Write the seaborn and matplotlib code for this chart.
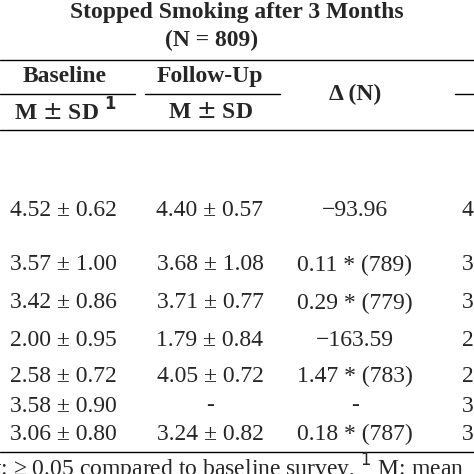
import matplotlib
matplotlib.use("Agg")
import matplotlib.pyplot as plt
import seaborn as sns

sns.set_theme(style="white")
plt.rcParams['font.family'] = ['Liberation Serif', 'DejaVu Serif']

baseline = ["4.52 ± 0.62", "3.57 ± 1.00", "3.42 ± 0.86", "2.00 ± 0.95", "2.58 ± 0.72", "3.58 ± 0.90", "3.06 ± 0.80"]
followup = ["4.40 ± 0.57", "3.68 ± 1.08", "3.71 ± 0.77", "1.79 ± 0.84", "4.05 ± 0.72", "-", "3.24 ± 0.82"]
delta = ["−93.96", "0.11 * (789)", "0.29 * (779)", "−163.59", "1.47 * (783)", "-", "0.18 * (787)"]
cutoff = ["4", "3", "3", "2", "2", "3", "3"]
row_y = [210, 265, 303, 340, 376, 406, 434]

fig = plt.figure(figsize=(4.74, 4.74), dpi=100)
ax = fig.add_axes([0, 0, 1, 1])
ax.set_xlim(0, 474)
ax.set_ylim(474, 0)
ax.axis("off")

fs = 17
ax.text(237, 12, "Stopped Smoking after 3 Months", ha="center", va="center", fontsize=fs, weight="bold")
ax.text(212, 40, "(N = 809)", ha="center", va="center", fontsize=fs, weight="bold")
ax.plot([0, 474], [60, 60], color="black", lw=1)
ax.text(65, 76, "Baseline", ha="center", va="center", fontsize=fs, weight="bold")
ax.text(210, 76, "Follow-Up", ha="center", va="center", fontsize=fs, weight="bold")
ax.text(355, 94, "Δ (N)", ha="center", va="center", fontsize=fs, weight="bold")
ax.plot([0, 135], [94, 94], color="black", lw=1)
ax.plot([145, 280], [94, 94], color="black", lw=1)
ax.plot([455, 474], [94, 94], color="black", lw=1)
ax.text(65, 112, r"M $\pm$ SD $^{\mathbf{1}}$", ha="center", va="center", fontsize=fs, weight="bold")
ax.text(210, 112, r"M $\pm$ SD", ha="center", va="center", fontsize=fs, weight="bold")
ax.plot([0, 474], [130, 130], color="black", lw=1)

for y, b, f, d, c in zip(row_y, baseline, followup, delta, cutoff):
    ax.text(63, y, b, ha="center", va="center", fontsize=fs)
    ax.text(210, y, f, ha="center", va="center", fontsize=fs)
    ax.text(355, y, d, ha="center", va="center", fontsize=fs)
    ax.text(462, y, c, ha="left", va="center", fontsize=fs)

ax.plot([0, 474], [452, 452], color="black", lw=1)
ax.text(-6, 468, r"t: ≥ 0.05 compared to baseline survey, $^1$ M: mean", ha="left", va="center", fontsize=fs)

fig.savefig("out.png", dpi=100)
